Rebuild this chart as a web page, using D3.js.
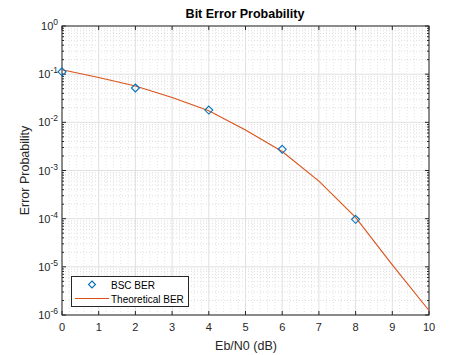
<!DOCTYPE html>
<html><head><meta charset="utf-8">
<script src="https://cdn.jsdelivr.net/npm/d3@7"></script>
<style>body{margin:0;background:#fff;} svg{display:block;font-family:"Liberation Sans",Arial,sans-serif;}</style>
</head><body>
<svg id="c" width="474" height="355"></svg>
<script>
const ebn0Sim = [0, 2, 4, 6, 8];
const berSim = [0.112, 0.0516, 0.018, 0.00275, 0.000097];
const ebn0Theory = [0, 1, 2, 3, 4, 5, 6, 7, 8, 9, 10];
const berTheory = [0.124, 0.085, 0.0568, 0.0328, 0.0174, 0.00693, 0.00248, 0.000600, 0.000106, 0.000011, 0.00000124];
const xTicks = [0,1,2,3,4,5,6,7,8,9,10];
const yExps = [0,-1,-2,-3,-4,-5,-6];
const seriesNames = ["BSC BER", "Theoretical BER"];

const svg = d3.select("#c");
const L=62, R=429, T=26, B=315;
const x = d3.scaleLinear().domain([0,10]).range([L,R]);
const y = d3.scaleLog().domain([1e-6,1]).range([B,T]);
const axisCol="#262626", gridCol="#e0e0e0";

svg.append("rect").attr("x",L).attr("y",T).attr("width",R-L).attr("height",B-T).attr("fill","#fff");

// minor grid
const g = svg.append("g");
const xMinor = d3.range(0,10.001,0.2).filter(v=>Math.abs(v-Math.round(v))>1e-6);
g.selectAll(".xm").data(xMinor).join("line")
 .attr("x1",d=>x(d)).attr("x2",d=>x(d)).attr("y1",T).attr("y2",B)
 .attr("stroke","#dedede").attr("stroke-width",0.8).attr("stroke-dasharray","1,2");
const yMinor=[];
for(let e=-6;e<0;e++) for(let m=2;m<=9;m++) yMinor.push(m*Math.pow(10,e));
g.selectAll(".ym").data(yMinor).join("line")
 .attr("x1",L).attr("x2",R).attr("y1",d=>y(d)).attr("y2",d=>y(d))
 .attr("stroke","#d6d6d6").attr("stroke-width",0.8).attr("stroke-dasharray","1,2");
// major grid
g.selectAll(".xg").data(xTicks).join("line")
 .attr("x1",d=>x(d)).attr("x2",d=>x(d)).attr("y1",T).attr("y2",B)
 .attr("stroke",gridCol).attr("stroke-width",1);
g.selectAll(".yg").data(yExps).join("line")
 .attr("x1",L).attr("x2",R).attr("y1",d=>y(Math.pow(10,d))).attr("y2",d=>y(Math.pow(10,d)))
 .attr("stroke",gridCol).attr("stroke-width",1);

// axes box
svg.append("rect").attr("x",L).attr("y",T).attr("width",R-L).attr("height",B-T)
 .attr("fill","none").attr("stroke",axisCol).attr("stroke-width",1);

// ticks (inside)
const tk = svg.append("g").attr("stroke",axisCol).attr("stroke-width",1);
xTicks.forEach(v=>{
  tk.append("line").attr("x1",x(v)).attr("x2",x(v)).attr("y1",B).attr("y2",B-4);
  tk.append("line").attr("x1",x(v)).attr("x2",x(v)).attr("y1",T).attr("y2",T+4);
});
yExps.forEach(e=>{
  const yy=y(Math.pow(10,e));
  tk.append("line").attr("x1",L).attr("x2",L+4).attr("y1",yy).attr("y2",yy);
  tk.append("line").attr("x1",R).attr("x2",R-4).attr("y1",yy).attr("y2",yy);
});
yMinor.forEach(v=>{
  const yy=y(v);
  tk.append("line").attr("x1",L).attr("x2",L+2).attr("y1",yy).attr("y2",yy);
  tk.append("line").attr("x1",R).attr("x2",R-2).attr("y1",yy).attr("y2",yy);
});

// tick labels
svg.append("g").selectAll("text").data(xTicks).join("text")
 .attr("x",d=>x(d)).attr("y",B+16).attr("text-anchor","middle")
 .attr("font-size",11).attr("fill",axisCol).text(d=>d);
const yl = svg.append("g");
yExps.forEach(e=>{
  const yy=y(Math.pow(10,e));
  const t = yl.append("text").attr("x",L-4).attr("y",yy+4).attr("text-anchor","end")
   .attr("font-size",11).attr("fill",axisCol);
  t.append("tspan").text("10");
  t.append("tspan").attr("dy",-5).attr("font-size",8.5).text(String(e));
});

// labels
svg.append("text").attr("x",245).attr("y",18).attr("text-anchor","middle")
 .attr("font-size",12.5).attr("font-weight","bold").attr("fill","#000").text("Bit Error Probability");
svg.append("text").attr("x",246).attr("y",350).attr("text-anchor","middle")
 .attr("font-size",12.5).attr("fill",axisCol).text("Eb/N0 (dB)");
svg.append("text").attr("transform",`translate(29,${(T+B)/2}) rotate(-90)`).attr("text-anchor","middle")
 .attr("font-size",12.5).attr("fill",axisCol).text("Error Probability");

// theory line
const lineCol="#D95319", markCol="#0072BD";
const line = d3.line().x(d=>x(d[0])).y(d=>y(d[1]));
svg.append("path").datum(ebn0Theory.map((v,i)=>[v,berTheory[i]]))
 .attr("d",line).attr("fill","none").attr("stroke",lineCol).attr("stroke-width",1.1);

// markers
const diamond = (cx,cy,r)=>`M${cx},${cy-r}L${cx+r},${cy}L${cx},${cy+r}L${cx-r},${cy}Z`;
svg.append("g").selectAll("path").data(ebn0Sim.map((v,i)=>[v,berSim[i]])).join("path")
 .attr("d",d=>diamond(x(d[0]),y(d[1]),4)).attr("fill","none").attr("stroke",markCol).attr("stroke-width",1.1);

// legend
const lg = svg.append("g");
lg.append("rect").attr("x",71.5).attr("y",276.5).attr("width",117).attr("height",30)
 .attr("fill","#fff").attr("stroke",axisCol).attr("stroke-width",1);
lg.append("path").attr("d",diamond(92,284.5,3.5)).attr("fill","none").attr("stroke",markCol).attr("stroke-width",1.1);
lg.append("line").attr("x1",75).attr("x2",109).attr("y1",298.5).attr("y2",298.5).attr("stroke",lineCol).attr("stroke-width",1.1);
lg.append("text").attr("x",111).attr("y",289).attr("font-size",10).attr("fill","#000").text(seriesNames[0]);
lg.append("text").attr("x",111).attr("y",302.5).attr("font-size",10).attr("fill","#000").text(seriesNames[1]);
</script>
</body></html>
